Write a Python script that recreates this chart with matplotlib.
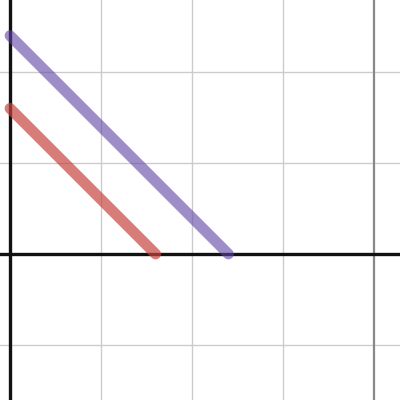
import matplotlib
matplotlib.use("Agg")
import matplotlib.pyplot as plt
import numpy as np

# Data: two line segments y = c - x, from x=0 to x=c
red_x = [0.0, 1.6]
red_y = [1.6, 0.0]
purple_x = [0.0, 2.4]
purple_y = [2.4, 0.0]
vline_x = 4.0

unit_px = 91.0
xmin = -10 / unit_px
xmax = (400 - 10) / unit_px
ymax = 254 / unit_px
ymin = -(400 - 254) / unit_px

fig = plt.figure(figsize=(4, 4), dpi=100)
ax = fig.add_axes([0, 0, 1, 1])
ax.set_xlim(xmin, xmax)
ax.set_ylim(ymin, ymax)
ax.set_axis_off()

for gx in [1, 2, 3]:
    ax.axvline(gx, color="#cccccc", lw=1.0, zorder=1)
for gy in [-1, 1, 2]:
    ax.axhline(gy, color="#cccccc", lw=1.0, zorder=1)

ax.axvline(vline_x, color="#888888", lw=1.6, zorder=2)
ax.axhline(0, color="#111111", lw=2.4, zorder=3)
ax.axvline(0, color="#111111", lw=2.4, zorder=3)

ax.plot(purple_x, purple_y, color="#6042a6", alpha=0.6, lw=7.8,
        solid_capstyle="round", zorder=4)
ax.plot(red_x, red_y, color="#c74440", alpha=0.7, lw=7.8,
        solid_capstyle="round", zorder=4)

fig.savefig("out.png", dpi=100)
